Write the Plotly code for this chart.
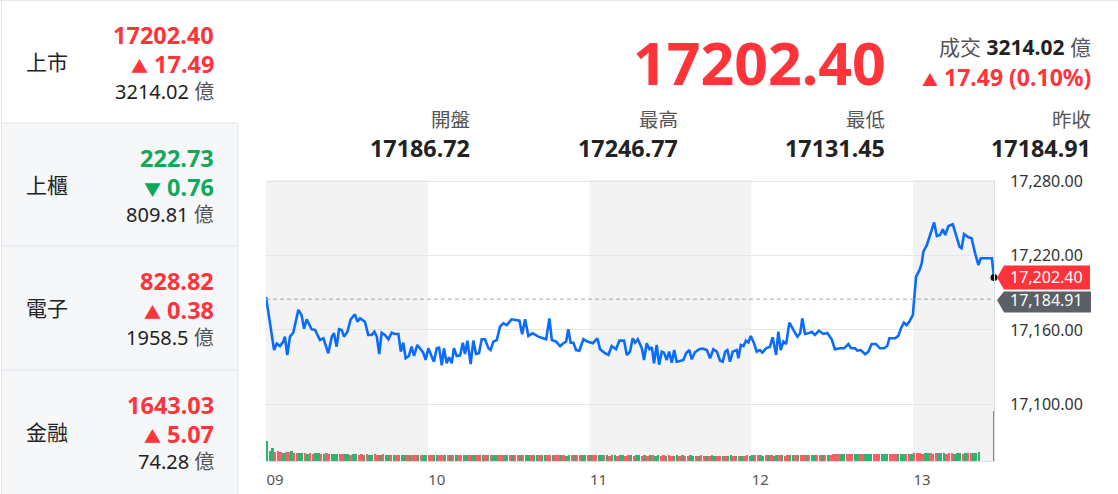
import plotly.graph_objects as go

W, H = 1118, 494

# ---------------- data ----------------
minutes = [0.0, 3.0, 4.0, 5.2, 6.4, 7.0, 7.9, 8.9, 10.1, 12.0, 13.2, 14.1, 15.1, 16.9, 18.2, 20.0,
           21.3, 23.1, 24.4, 25.2, 26.2, 27.1, 28.1, 28.9, 30.2, 31.4, 33.0, 33.9, 34.9, 36.7, 37.9,
           39.2, 40.2, 41.1, 42.0, 42.9, 44.1, 45.4, 46.6, 47.8, 49.1, 50.0, 50.9, 51.8, 53.0, 54.0,
           54.9, 56.1, 57.1, 58.3, 59.2, 60.2, 61.5, 62.3, 63.3, 64.2, 65.2, 66.0, 67.0, 67.9, 68.9,
           69.7, 70.7, 72.0, 73.0, 73.8, 74.7, 75.9, 76.9, 77.9, 79.0, 80.0, 81.2, 82.5, 83.3, 84.3,
           85.6, 86.8, 88.0, 89.3, 91.1, 93.0, 94.0, 95.0, 96.1, 97.3, 98.9, 101.0, 103.9, 105.1,
           106.0, 107.6, 109.1, 110.3, 111.3, 112.1, 113.0, 114.0, 115.0, 116.2, 117.7, 119.2, 121.2,
           122.9, 123.9, 125.7, 127.0, 128.2, 129.8, 131.1, 132.8, 133.8, 135.0, 136.0, 136.9, 137.9,
           139.4, 140.2, 141.2, 142.2, 143.1, 143.9, 144.9, 145.8, 146.8, 147.6, 148.6, 149.5, 150.5,
           151.4, 152.3, 153.6, 154.8, 155.8, 157.0, 157.9, 159.1, 160.7, 162.0, 163.5, 164.7, 165.9,
           167.2, 168.4, 169.4, 170.3, 171.1, 172.1, 173.1, 174.6, 175.2, 176.1, 177.1, 178.0, 178.9,
           179.8, 181.0, 182.0, 183.2, 184.1, 185.5, 186.9, 187.9, 189.2, 190.0, 190.9, 191.9, 192.9,
           194.1, 195.6, 197.1, 198.1, 198.9, 199.9, 201.1, 202.4, 203.6, 205.1, 206.7, 208.2, 209.8,
           211.0, 212.9, 214.4, 216.0, 217.0, 218.5, 219.3, 220.6, 222.2, 223.4, 224.6, 226.2, 227.7,
           229.2, 230.4, 231.2, 233.3, 234.5, 235.5, 236.6, 237.6, 238.6, 239.9, 240.4, 241.1, 242.4,
           243.2, 243.8, 245.1, 246.3, 247.8, 248.8, 250.0, 251.0, 251.9, 253.1, 254.7, 255.9, 257.2,
           258.0, 258.9, 260.5, 261.7, 263.0, 264.2, 265.1, 269.2, 270.0]

prices = [17186.7, 17143.8, 17149.0, 17147.0, 17150.6, 17154.6, 17139.8, 17154.6, 17157.8, 17176.2,
          17172.0, 17161.0, 17168.6, 17160.6, 17160.0, 17151.9, 17153.3, 17141.2, 17154.6, 17157.3,
          17146.5, 17160.6, 17160.0, 17154.6, 17158.6, 17168.6, 17172.6, 17166.7, 17169.4, 17166.7,
          17156.0, 17156.0, 17158.6, 17154.6, 17140.6, 17157.8, 17156.0, 17152.5, 17157.8, 17156.8,
          17156.8, 17142.5, 17149.7, 17137.2, 17139.0, 17146.5, 17139.0, 17147.9, 17145.2, 17141.7,
          17135.8, 17145.2, 17138.4, 17134.4, 17145.2, 17145.7, 17131.5, 17145.2, 17133.1, 17138.0,
          17133.1, 17145.2, 17139.0, 17139.5, 17149.7, 17140.6, 17151.4, 17132.5, 17151.4, 17140.6,
          17141.2, 17152.5, 17152.5, 17145.2, 17143.8, 17150.6, 17151.9, 17162.7, 17165.4, 17164.0,
          17168.6, 17168.1, 17167.5, 17156.5, 17168.6, 17155.2, 17157.3, 17154.6, 17152.5, 17169.4,
          17151.9, 17150.6, 17147.0, 17149.3, 17150.6, 17160.6, 17149.7, 17149.7, 17143.8, 17143.3,
          17152.5, 17150.6, 17149.3, 17153.3, 17144.4, 17141.2, 17139.8, 17147.0, 17144.4, 17151.4,
          17151.4, 17139.8, 17142.5, 17153.3, 17149.7, 17152.5, 17145.2, 17135.8, 17149.3, 17144.4,
          17146.0, 17133.1, 17147.9, 17132.0, 17142.5, 17141.7, 17135.8, 17142.5, 17133.6, 17143.8,
          17134.4, 17134.9, 17135.8, 17141.2, 17143.8, 17136.3, 17142.0, 17144.4, 17145.0, 17143.8,
          17137.2, 17144.4, 17142.5, 17135.2, 17134.4, 17142.5, 17143.8, 17134.4, 17142.5, 17143.8,
          17137.2, 17147.9, 17147.0, 17151.4, 17150.0, 17155.2, 17149.3, 17142.5, 17143.8, 17141.7,
          17145.2, 17146.5, 17154.1, 17139.8, 17158.6, 17143.8, 17150.6, 17148.7, 17165.9, 17160.0,
          17154.6, 17157.3, 17169.4, 17156.8, 17157.3, 17158.6, 17156.0, 17159.4, 17156.8, 17157.6,
          17152.5, 17144.4, 17145.2, 17145.2, 17148.7, 17145.2, 17145.2, 17143.3, 17143.8, 17140.4,
          17142.5, 17148.7, 17148.7, 17145.2, 17145.2, 17147.0, 17153.3, 17153.3, 17155.2, 17161.4,
          17165.9, 17164.0, 17166.7, 17172.1, 17184.2, 17203.0, 17208.5, 17213.9, 17223.2, 17228.6,
          17236.7, 17246.8, 17235.9, 17236.7, 17241.3, 17236.7, 17244.0, 17245.4, 17236.7, 17227.3,
          17226.0, 17237.5, 17234.8, 17234.0, 17221.9, 17212.5, 17217.9, 17217.9, 17202.4]

# per-minute turnover (億), 09:00-13:24, then the 13:30 closing auction
volumes = [36, 18, 23, 17, 18, 17, 15, 16, 16, 18,
           15, 14, 15, 14, 15, 13, 14, 13, 14, 15,
           13, 13, 14, 13, 12, 13, 12, 12, 13, 12,
           12, 11, 12, 12, 11, 12, 11, 12, 11, 11,
           12, 11, 11, 12, 11, 10, 11, 11, 10, 11,
           10, 11, 10, 10, 11, 10, 10, 11, 10, 10,
           10, 10, 11, 10, 10, 10, 11, 10, 10, 10,
           10, 10, 10, 11, 10, 10, 10, 10, 11, 10,
           10, 10, 10, 10, 10, 11, 10, 10, 10, 10,
           10, 10, 10, 10, 11, 10, 10, 10, 10, 10,
           10, 10, 11, 10, 10, 10, 10, 10, 10, 10,
           10, 9, 10, 10, 10, 10, 10, 10, 10, 10,
           10, 10, 10, 10, 10, 10, 10, 9, 10, 10,
           9, 10, 10, 9, 10, 10, 9, 10, 10, 9,
           10, 9, 10, 10, 9, 10, 9, 10, 9, 10,
           9, 9, 10, 9, 10, 9, 9, 10, 9, 9,
           9, 10, 9, 9, 9, 10, 9, 9, 9, 9,
           9, 9, 10, 9, 9, 9, 9, 9, 10, 9,
           10, 10, 10, 10, 9, 10, 10, 10, 9, 10,
           10, 10, 9, 10, 10, 10, 10, 10, 10, 10,
           10, 11, 10, 10, 11, 10, 11, 10, 11, 11,
           12, 12, 12, 12, 12, 13, 12, 12, 12, 12,
           12, 12, 12, 12, 12, 12, 12, 12, 12, 12,
           12, 12, 12, 12, 12, 12, 12, 12, 12, 12,
           14, 14, 14, 13, 14, 14, 14, 13, 14, 14,
           14, 14, 13, 14, 14, 13, 14, 14, 13, 14,
           14, 15, 15, 15, 16]
close_minute = 270
close_volume = 90
# U = up tick (red), D = down tick (green)
vol_dirs = ("DDDUUUDUUD" "UUDDUDUUDD" "UDUUDDDUUD" "DUDDUUDUDD" "UUDUDDUDUU"
            "DDUDUUDUDD" "UUDDUUDUDU" "DUUDDUDDUU" "DUDUDDUUDD" "UDUUDUDDUD"
            "DUDDUUDUUD" "UDDUDUUDDU" "DUUDDUDUDD" "UDDUUDUDDU" "DUDUDDUUDU"
            "UDDUDUUDDU" "DUUDUDDUUD" "UDDUDUDUUD" "DUUDDUDUDD" "UDUUDDUDUU"
            "DUDDUUDUDU" "UUUDDUUUDD" "UUDDDUUUDD" "DUUUDDDUUD" "UUUUDDUUUD"
            "DDUUUDDDUD" "UUDDD")

prev_close = 17184.91
last_price = 17202.40
hour_ticks = [0, 60, 120, 180, 240]
hour_labels = ["09", "10", "11", "12", "13"]
price_ticks = [17100, 17160, 17220, 17280]
shaded_hours = [(0, 60), (120, 180), (240, 270)]

markets = ["上市", "上櫃", "電子", "金融"]
market_values = ["17202.40", "222.73", "828.82", "1643.03"]
market_changes = ["17.49", "0.76", "0.38", "5.07"]
market_up = [True, False, True, True]
market_turnover = ["3214.02", "809.81", "1958.5", "74.28"]

header_labels = ["開盤", "最高", "最低", "昨收"]
header_values = ["17186.72", "17246.77", "17131.45", "17184.91"]
turnover = "3214.02"
change_text = "17.49 (0.10%)"

# ---------------- style ----------------
FONT = "Noto Sans, Noto Sans CJK TC, sans-serif"
RED = "#ff333a"
GREEN = "#10a85a"
DARK = "#222222"
GRAY = "#555555"
BORDER = "#e3e6ea"
BAR_UP = "#ff5d65"
BAR_DOWN = "#2db56f"


def px(x):
    return x / W


def py(y):
    return 1 - y / H


x0p, x1p = px(266), px(994)
yb, yt = py(461), py(180)

fig = go.Figure()

bar_x = [i + 0.5 for i in range(len(volumes))] + [close_minute]
bar_y = volumes + [close_volume]
bar_c = [BAR_UP if d == "U" else BAR_DOWN for d in vol_dirs[:len(volumes)]] + [BAR_DOWN]
fig.add_trace(go.Bar(x=bar_x, y=bar_y, marker=dict(color=bar_c, line=dict(width=0)),
                     width=0.72, yaxis="y2", hoverinfo="skip", showlegend=False))

fig.add_trace(go.Scatter(x=minutes, y=prices, mode="lines",
                         line=dict(color="#0a6cff", width=2.6), showlegend=False,
                         hoverinfo="skip"))
fig.add_trace(go.Scatter(x=[minutes[-1]], y=[prices[-1]], mode="markers",
                         marker=dict(color="#111111", size=7), cliponaxis=False,
                         showlegend=False, hoverinfo="skip"))

shapes = []
# left panel
shapes.append(dict(type="rect", xref="paper", yref="paper", x0=px(1), x1=px(238), y0=py(494), y1=py(123),
                   fillcolor="#f6f7f9", line=dict(width=0), layer="below"))
shapes.append(dict(type="line", xref="paper", yref="paper", x0=px(238), x1=px(238), y0=py(494), y1=py(123),
                   line=dict(color=BORDER, width=1)))
for yy in [123, 246, 370]:
    shapes.append(dict(type="line", xref="paper", yref="paper", x0=px(1), x1=px(238), y0=py(yy), y1=py(yy),
                       line=dict(color=BORDER, width=1)))
shapes.append(dict(type="line", xref="paper", yref="paper", x0=px(1.5), x1=px(1.5), y0=0, y1=1,
                   line=dict(color=BORDER, width=1)))
shapes.append(dict(type="line", xref="paper", yref="paper", x0=0, x1=1, y0=py(0.5), y1=py(0.5),
                   line=dict(color=BORDER, width=1)))
# shaded hours
for a, b in shaded_hours:
    shapes.append(dict(type="rect", xref="x", yref="paper", x0=a, x1=b, y0=yb, y1=yt,
                       fillcolor="#f3f3f3", line=dict(width=0), layer="below"))
# previous close dashed line
shapes.append(dict(type="line", xref="paper", yref="y", x0=x0p, x1=x1p, y0=prev_close, y1=prev_close,
                   line=dict(color="#a8a8a8", width=1, dash="4px,3px")))
# price tags
shapes.append(dict(type="path", xref="paper", yref="y", xsizemode="pixel", ysizemode="pixel",
                   xanchor=x1p, yanchor=last_price,
                   path="M 3,0 L 10,12 L 96,12 L 96,-12 L 10,-12 Z",
                   fillcolor=RED, line=dict(width=0)))
shapes.append(dict(type="path", xref="paper", yref="y", xsizemode="pixel", ysizemode="pixel",
                   xanchor=x1p, yanchor=prev_close,
                   path="M 3,-1 L 10,7.5 L 97,7.5 L 97,-13.5 L 10,-13.5 Z",
                   fillcolor="#5b6066", line=dict(width=0)))

ann = []


def text(t, x, y, size, color, xanchor="right", bold=False):
    ann.append(dict(text=t, xref="paper", yref="paper", x=px(x), y=py(y), xanchor=xanchor,
                    yanchor="middle", showarrow=False,
                    font=dict(family=FONT, size=size, color=color, weight="bold" if bold else "normal")))


tops = [0, 123, 246, 370]
for i, name in enumerate(markets):
    t = tops[i]
    col = RED if market_up[i] else GREEN
    tri = "▲" if market_up[i] else "▼"
    text(name, 24, t + 62, 21, DARK, xanchor="left")
    text(market_values[i], 216, t + 35, 23.5, col, bold=True)
    text(f"<span style='font-size:17px'>{tri}</span> {market_changes[i]}", 216, t + 64, 23.5, col, bold=True)
    text(f"{market_turnover[i]} <span style='color:{GRAY}'>億</span>", 216, t + 91, 20, DARK)

text(f"{last_price:.2f}", 888, 62, 59, RED, bold=True)
text(f"<span style='color:{GRAY};font-weight:normal'>成交</span> {turnover} "
     f"<span style='color:{GRAY};font-weight:normal'>億</span>",
     1093, 47, 21, DARK, bold=True)
text(f"<span style='font-size:16px'>▲</span> {change_text}", 1093, 77, 23, RED, bold=True)
for i, (lab, val) in enumerate(zip(header_labels, header_values)):
    xr = [472, 680, 887, 1093][i]
    text(lab, xr, 120, 19.5, GRAY)
    text(val, xr, 148, 23.3, DARK, bold=True)

# tag texts
ann.append(dict(text=f"{last_price:,.2f}", xref="paper", yref="y", x=x1p, y=last_price, xanchor="left",
                yanchor="middle", xshift=14, showarrow=False,
                font=dict(family=FONT, size=16, color="white")))
ann.append(dict(text=f"{prev_close:,.2f}", xref="paper", yref="y", x=x1p, y=prev_close, xanchor="left",
                yanchor="middle", xshift=14, yshift=-1, showarrow=False,
                font=dict(family=FONT, size=16, color="white")))

fig.update_layout(
    width=W, height=H, margin=dict(l=0, r=0, t=0, b=0, pad=0, autoexpand=False),
    paper_bgcolor="white", plot_bgcolor="rgba(0,0,0,0)",
    font=dict(family=FONT), showlegend=False, bargap=0,
    shapes=shapes, annotations=ann,
    xaxis=dict(domain=[x0p, x1p], range=[0, 270], showgrid=False, zeroline=False, automargin=False,
               tickvals=hour_ticks, ticktext=hour_labels, ticks="", ticklabelshift=9,
               ticklabelstandoff=5, tickfont=dict(size=15, color=GRAY),
               showline=True, linecolor="#dcdfe3", linewidth=1, fixedrange=True),
    yaxis=dict(domain=[yb, yt], range=[17054.2, 17281.1], side="right", tickvals=price_ticks,
               tickformat=",.2f", showgrid=True, gridcolor="#e6e6e6", zeroline=False, automargin=False,
               showline=True, linecolor="#dcdfe3", linewidth=1, ticks="", ticklabelstandoff=12,
               tickfont=dict(size=16, color="#333333"), fixedrange=True),
    yaxis2=dict(domain=[yb, yt], overlaying="y", range=[0, 506], visible=False, fixedrange=True,
                automargin=False),
)

fig.write_html("out.html", config={"displayModeBar": False},
               post_script="document.body.style.margin='0';document.body.style.overflow='hidden';")
